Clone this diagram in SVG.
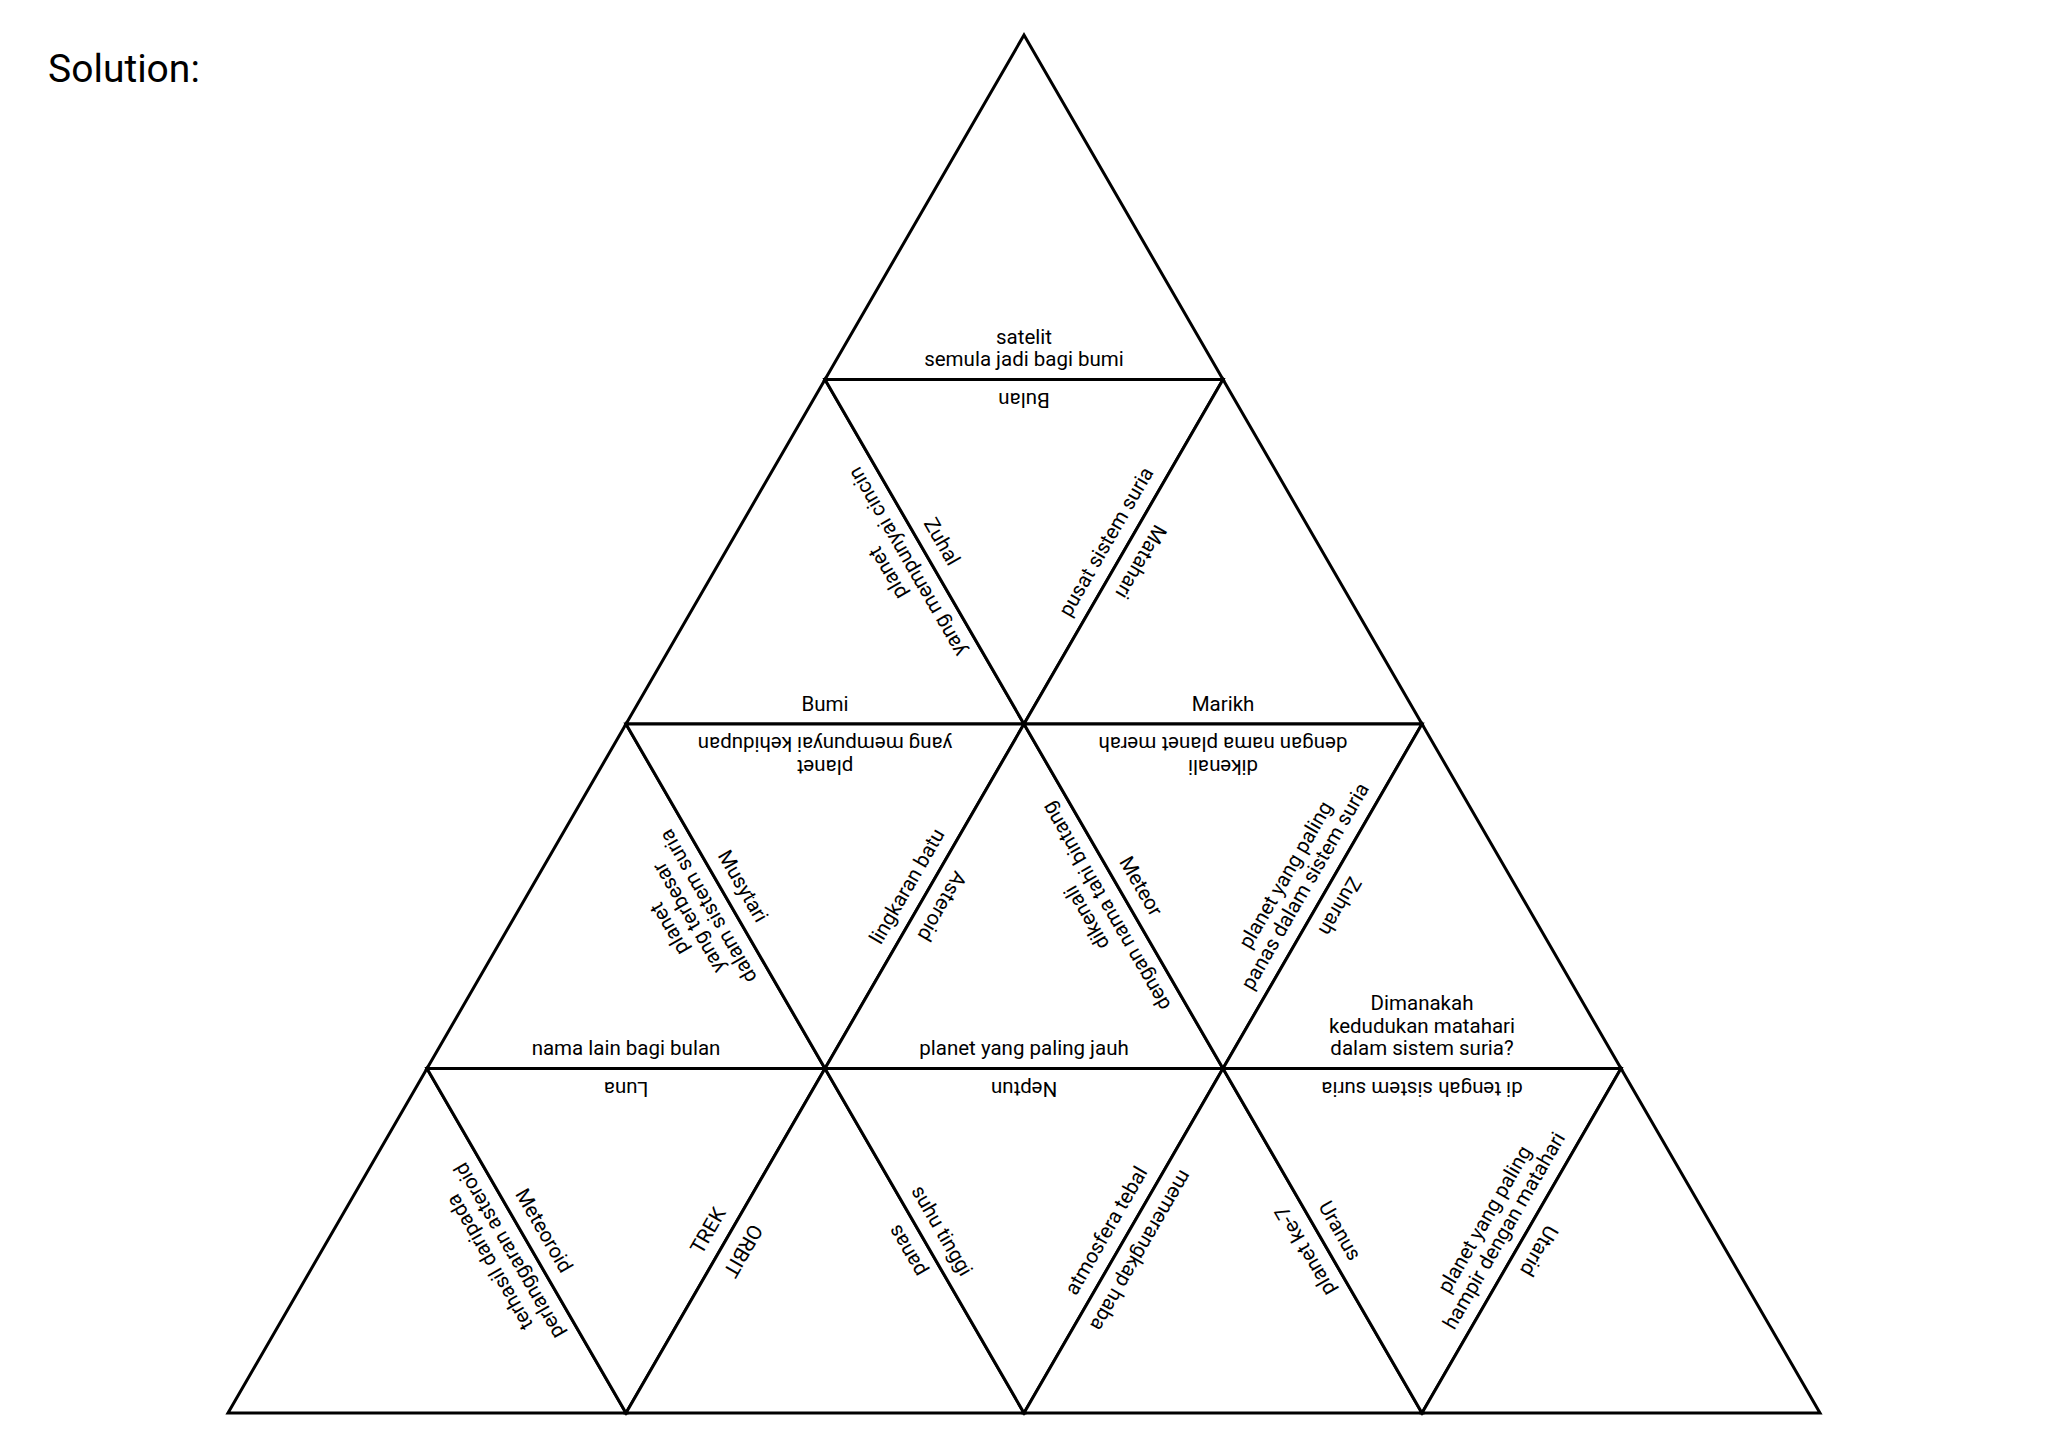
<svg xmlns="http://www.w3.org/2000/svg" width="2048" height="1448" viewBox="0 0 2048 1448">
<style>
.t{fill:#fff;stroke:#000;stroke-width:3;stroke-linejoin:miter}
text{font-family:Roboto,"Liberation Sans",sans-serif;font-size:20.5px;fill:#000;text-anchor:middle}
.title{font-size:39px;text-anchor:start}
</style>
<rect width="2048" height="1448" fill="#fff"/>
<text class="title" x="48" y="82">Solution:</text>
<g id="tri-1">
<polygon class="t" points="1024,35 825,379.5 1223,379.5"/>
<text transform="translate(1024,379.5)"><tspan x="0" y="-35.8">satelit</tspan><tspan x="0" y="-13.3">semula jadi bagi bumi</tspan></text>
</g>
<g id="tri-2a">
<polygon class="t" points="825,379.5 626,724 1024,724"/>
<text transform="translate(924.5,551.75) rotate(-120)"><tspan x="0" y="-35.8">planet</tspan><tspan x="0" y="-13.3">yang mempunyai cincin</tspan></text>
<text transform="translate(825,724)"><tspan x="0" y="-13.3">Bumi</tspan></text>
</g>
<g id="tri-2b">
<polygon class="t" points="825,379.5 1223,379.5 1024,724"/>
<text transform="translate(1024,379.5) rotate(180)"><tspan x="0" y="-13.3">Bulan</tspan></text>
<text transform="translate(924.5,551.75) rotate(60)"><tspan x="0" y="-13.3">Zuhal</tspan></text>
<text transform="translate(1123.5,551.75) rotate(-60)"><tspan x="0" y="-13.3">pusat sistem suria</tspan></text>
</g>
<g id="tri-2c">
<polygon class="t" points="1223,379.5 1024,724 1422,724"/>
<text transform="translate(1123.5,551.75) rotate(120)"><tspan x="0" y="-13.3">Matahari</tspan></text>
<text transform="translate(1223,724)"><tspan x="0" y="-13.3">Marikh</tspan></text>
</g>
<g id="tri-3a">
<polygon class="t" points="626,724 427,1068.5 825,1068.5"/>
<text transform="translate(725.5,896.25) rotate(-120)"><tspan x="0" y="-58.3">planet</tspan><tspan x="0" y="-35.8">yang terbesar</tspan><tspan x="0" y="-13.3">dalam sistem suria</tspan></text>
<text transform="translate(626,1068.5)"><tspan x="0" y="-13.3">nama lain bagi bulan</tspan></text>
</g>
<g id="tri-3b">
<polygon class="t" points="626,724 1024,724 825,1068.5"/>
<text transform="translate(825,724) rotate(180)"><tspan x="0" y="-35.8">planet</tspan><tspan x="0" y="-13.3">yang mempunyai kehidupan</tspan></text>
<text transform="translate(725.5,896.25) rotate(60)"><tspan x="0" y="-13.3">Musytari</tspan></text>
<text transform="translate(924.5,896.25) rotate(-60)"><tspan x="0" y="-13.3">lingkaran batu</tspan></text>
</g>
<g id="tri-3c">
<polygon class="t" points="1024,724 825,1068.5 1223,1068.5"/>
<text transform="translate(924.5,896.25) rotate(120)"><tspan x="0" y="-13.3">Asteroid</tspan></text>
<text transform="translate(1123.5,896.25) rotate(-120)"><tspan x="0" y="-35.8">dikenali</tspan><tspan x="0" y="-13.3">dengan nama tahi bintang</tspan></text>
<text transform="translate(1024,1068.5)"><tspan x="0" y="-13.3">planet yang paling jauh</tspan></text>
</g>
<g id="tri-3d">
<polygon class="t" points="1024,724 1422,724 1223,1068.5"/>
<text transform="translate(1223,724) rotate(180)"><tspan x="0" y="-35.8">dikenali</tspan><tspan x="0" y="-13.3">dengan nama planet merah</tspan></text>
<text transform="translate(1123.5,896.25) rotate(60)"><tspan x="0" y="-13.3">Meteor</tspan></text>
<text transform="translate(1322.5,896.25) rotate(-60)"><tspan x="0" y="-35.8">planet yang paling</tspan><tspan x="0" y="-13.3">panas dalam sistem suria</tspan></text>
</g>
<g id="tri-3e">
<polygon class="t" points="1422,724 1223,1068.5 1621,1068.5"/>
<text transform="translate(1322.5,896.25) rotate(120)"><tspan x="0" y="-13.3">Zuhrah</tspan></text>
<text transform="translate(1422,1068.5)"><tspan x="0" y="-58.3">Dimanakah</tspan><tspan x="0" y="-35.8">kedudukan matahari</tspan><tspan x="0" y="-13.3">dalam sistem suria?</tspan></text>
</g>
<g id="tri-4a">
<polygon class="t" points="427,1068.5 228,1413 626,1413"/>
<text transform="translate(526.5,1240.75) rotate(-120)"><tspan x="0" y="-35.8">terhasil daripada</tspan><tspan x="0" y="-13.3">perlanggaran asteroid</tspan></text>
</g>
<g id="tri-4b">
<polygon class="t" points="427,1068.5 825,1068.5 626,1413"/>
<text transform="translate(626,1068.5) rotate(180)"><tspan x="0" y="-13.3">Luna</tspan></text>
<text transform="translate(526.5,1240.75) rotate(60)"><tspan x="0" y="-13.3">Meteoroid</tspan></text>
<text transform="translate(725.5,1240.75) rotate(-60)"><tspan x="0" y="-13.3">TREK</tspan></text>
</g>
<g id="tri-4c">
<polygon class="t" points="825,1068.5 626,1413 1024,1413"/>
<text transform="translate(725.5,1240.75) rotate(120)"><tspan x="0" y="-13.3">ORBIT</tspan></text>
<text transform="translate(924.5,1240.75) rotate(-120)"><tspan x="0" y="-13.3">panas</tspan></text>
</g>
<g id="tri-4d">
<polygon class="t" points="825,1068.5 1223,1068.5 1024,1413"/>
<text transform="translate(1024,1068.5) rotate(180)"><tspan x="0" y="-13.3">Neptun</tspan></text>
<text transform="translate(924.5,1240.75) rotate(60)"><tspan x="0" y="-13.3">suhu tinggi</tspan></text>
<text transform="translate(1123.5,1240.75) rotate(-60)"><tspan x="0" y="-13.3">atmosfera tebal</tspan></text>
</g>
<g id="tri-4e">
<polygon class="t" points="1223,1068.5 1024,1413 1422,1413"/>
<text transform="translate(1123.5,1240.75) rotate(120)"><tspan x="0" y="-13.3">memerangkap haba</tspan></text>
<text transform="translate(1322.5,1240.75) rotate(-120)"><tspan x="0" y="-13.3">planet ke-7</tspan></text>
</g>
<g id="tri-4f">
<polygon class="t" points="1223,1068.5 1621,1068.5 1422,1413"/>
<text transform="translate(1422,1068.5) rotate(180)"><tspan x="0" y="-13.3">di tengah sistem suria</tspan></text>
<text transform="translate(1322.5,1240.75) rotate(60)"><tspan x="0" y="-13.3">Uranus</tspan></text>
<text transform="translate(1521.5,1240.75) rotate(-60)"><tspan x="0" y="-35.8">planet yang paling</tspan><tspan x="0" y="-13.3">hampir dengan matahari</tspan></text>
</g>
<g id="tri-4g">
<polygon class="t" points="1621,1068.5 1422,1413 1820,1413"/>
<text transform="translate(1521.5,1240.75) rotate(120)"><tspan x="0" y="-13.3">Utarid</tspan></text>
</g>
</svg>
